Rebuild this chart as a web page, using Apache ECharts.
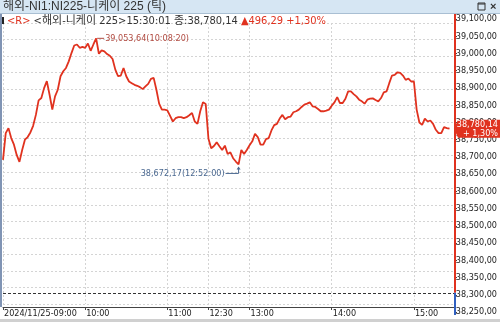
<!DOCTYPE html>
<html><head><meta charset="utf-8">
<script src="https://cdn.jsdelivr.net/npm/echarts@6/dist/echarts.min.js"></script>
<style>html,body{margin:0;padding:0;background:#fff}#c{width:500px;height:322px}</style>
</head><body><div id="c"></div>
<script>
// ---- data ----
const titleText = '해외-NI1:NI225-니케이 225 (틱)';
const prevClose = 38283.85;
const lastPrice = 38780.14;
const change = 496.29;
const changePct = 1.30;
const peakIndex = 34, peakValue = 39053.64, peakTime = '10:08:20';
const lowIndex = 86, lowValue = 38672.17, lowTime = '12:52:00';
const tickTimes = ['09:00', '10:00', '11:00', '12:30', '13:00', '14:00', '15:00'];
const tickTexts = ['2024/11/25-09:00', '10:00', '11:00', '12:30', '13:00', '14:00', '15:00'];
const priceMin = 38250, priceMax = 39100, priceStep = 50;
// 2-minute trading slots, 09:00-11:30 then 12:30-15:30 (lunch break removed)
const categories = [];
for (let m = 0; m <= 330; m += 2) {
  const t = m < 150 ? 540 + m : 750 + (m - 150);
  categories.push(String(Math.floor(t / 60)).padStart(2, '0') + ':' + String(t % 60).padStart(2, '0'));
}
const prices = [
 38686,38767,38782,38752,38732,38701,38680,38716,38747,38755,
 38769,38789,38822,38866,38873,38903,38924,38883,38838,38878,
 38898,38939,38954,38964,38984,39009,39032,39035,39025,39028,
 39025,39038,39016,39035,39053.64,39007,39017,39014,39006,39001,
 38991,38959,38939,38941,38964,38939,38923,38918,38913,38910,
 38906,38900,38908,38916,38931,38934,38898,38856,38838,38838,
 38836,38819,38802,38812,38815,38815,38812,38815,38821,38828,
 38802,38795,38833,38860,38855,38750,38721,38728,38739,38727,
 38716,38729,38704,38709,38691,38681,38672.17,38716,38704,38716,
 38730,38742,38765,38755,38732,38732,38749,38752,38775,38791,
 38795,38811,38822,38809,38815,38817,38830,38833,38838,38846,
 38853,38856,38860,38848,38846,38840,38833,38833,38835,38838,
 38850,38860,38876,38858,38858,38871,38893,38893,38885,38878,
 38868,38863,38856,38868,38871,38872,38867,38863,38873,38890,
 38893,38918,38941,38943,38951,38949,38941,38928,38932,38923,
 38923,38838,38799,38792,38811,38802,38805,38795,38777,38767,
 38767,38785,38782,38780.14
];

function fmt(v) {
  const s = v.toFixed(2).split('.');
  return s[0].replace(/\B(?=(\d{3})+(?!\d))/g, ',') + ',' + s[1];
}
const COND = '"DejaVu Sans Condensed","Noto Sans CJK KR",sans-serif';
const WIDE = '"Liberation Sans","Noto Sans CJK KR",sans-serif';
const RED = '#e0321f';

const chart = echarts.init(document.getElementById('c'));
chart.setOption({
  animation: false,
  backgroundColor: '#fff',
  grid: [
    { left: 3, right: 45, top: 23, bottom: 18 },
    { left: 454, width: 1, top: 19, bottom: 10 }
  ],
  xAxis: [{
    type: 'category', data: categories, boundaryGap: false, gridIndex: 0, offset: 3,
    axisLine: { lineStyle: { color: '#444', width: 1 } },
    axisTick: { show: true, length: 3, interval: (i, v) => tickTimes.includes(v), lineStyle: { color: '#444' } },
    axisLabel: {
      interval: (i, v) => tickTimes.includes(v),
      formatter: v => tickTexts[tickTimes.indexOf(v)] || '',
      align: 'left', margin: 2, padding: [0, 0, 0, 1],
      fontSize: 9, color: '#222', fontFamily: COND
    },
    splitLine: { show: true, interval: (i, v) => tickTimes.includes(v), lineStyle: { color: '#d4d4d4', type: [2, 2] } }
  }, {
    type: 'value', gridIndex: 1, show: false
  }],
  yAxis: [{
    type: 'value', gridIndex: 0, position: 'right', min: priceMin, max: priceMax, interval: priceStep,
    axisLine: { show: false }, axisTick: { show: false }, axisLabel: { show: false },
    splitLine: { show: true, lineStyle: { color: '#d4d4d4', type: [2, 2] } }
  }, {
    type: 'value', gridIndex: 1, position: 'right', min: priceMin, max: priceMax, interval: priceStep,
    axisLine: { show: false },
    axisTick: { show: true, length: 3, lineStyle: { color: '#444' } },
    axisLabel: { formatter: fmt, fontSize: 9, margin: 1, color: '#222', fontFamily: COND },
    splitLine: { show: false }
  }],
  series: [{
    type: 'line', data: prices, showSymbol: false, symbol: 'none', xAxisIndex: 0, yAxisIndex: 0,
    lineStyle: { color: RED, width: 1.8 },
    markLine: {
      silent: true, symbol: 'none', animation: false,
      data: [{ yAxis: prevClose }],
      lineStyle: { color: '#333', type: [3, 2], width: 1 },
      label: { show: false }
    }
  }]
});

const px = (i, v) => chart.convertToPixel({ xAxisIndex: 0, yAxisIndex: 0 }, [i, v]);
const pk = px(peakIndex, peakValue);
const lo = px(lowIndex, lowValue);
const pc = px(0, prevClose);
const lp = px(0, lastPrice);
const axX = 455;

chart.setOption({
  graphic: [
    // title bar
    { type: 'rect', shape: { x: 0, y: 0, width: 500, height: 13 }, style: { fill: '#d6e6f3' }, z: 100 },
    { type: 'line', shape: { x1: 0, y1: 13.5, x2: 500, y2: 13.5 }, style: { stroke: '#a9bfd3', lineWidth: 1 }, z: 100 },
    { type: 'text', x: 3, y: 7, style: { text: titleText, fill: '#333', font: '12px ' + WIDE, verticalAlign: 'middle' }, z: 101 },
    { type: 'rect', shape: { x: 478, y: 3, width: 7, height: 7 }, style: { fill: 'none', stroke: '#333', lineWidth: 1 }, z: 101 },
    { type: 'line', shape: { x1: 478, y1: 4, x2: 485, y2: 4 }, style: { stroke: '#333', lineWidth: 1 }, z: 101 },
    { type: 'text', x: 490, y: 7, style: { text: '×', fill: '#333', font: 'bold 11px sans-serif', verticalAlign: 'middle' }, z: 101 },
    // legend row
    { type: 'rect', shape: { x: 2, y: 17, width: 2, height: 7 }, style: { fill: '#222' }, z: 101 },
    { type: 'text', x: 7, y: 21, z: 101, style: {
        text: '{r|<R>} {k|<해외-니케이 225>15:30:01 종:' + fmt(lastPrice) + '} {r|▲' + fmt(change) + ' +' + fmt(changePct) + '%}',
        verticalAlign: 'middle', font: '11px ' + COND,
        rich: { r: { fill: RED, font: '11px ' + COND }, k: { fill: '#333', font: '11px ' + COND } }
    } },
    // left frame bar
    { type: 'rect', shape: { x: 0, y: 14, width: 2, height: 293 }, style: { fill: '#8094b4' }, z: 50 },
    // price axis line: red above previous close, blue below
    { type: 'line', shape: { x1: axX, y1: 14, x2: axX, y2: pc[1] }, style: { stroke: RED, lineWidth: 2 }, z: 60 },
    { type: 'line', shape: { x1: axX, y1: pc[1], x2: axX, y2: 315 }, style: { stroke: '#3060c0', lineWidth: 2 }, z: 60 },
    // high annotation
    { type: 'line', shape: { x1: pk[0] + 1, y1: pk[1], x2: pk[0] + 8, y2: pk[1] }, style: { stroke: '#b04a40', lineWidth: 1 }, z: 70 },
    { type: 'text', x: pk[0] + 9, y: pk[1], style: { text: fmt(peakValue) + '(' + peakTime + ')', fill: '#b04a40', font: '9px ' + COND, verticalAlign: 'middle' }, z: 70 },
    // low annotation
    { type: 'polyline', shape: { points: [[lo[0] - 13, lo[1] + 9], [lo[0], lo[1] + 9], [lo[0], lo[1] + 3]] }, style: { stroke: '#4a6890', lineWidth: 1, fill: 'none' }, z: 70 },
    { type: 'polygon', shape: { points: [[lo[0] - 2, lo[1] + 5], [lo[0] + 2, lo[1] + 5], [lo[0], lo[1] + 2]] }, style: { fill: '#4a6890' }, z: 70 },
    { type: 'text', x: lo[0] - 14, y: lo[1] + 9, style: { text: fmt(lowValue) + '(' + lowTime + ')', fill: '#4a6890', font: '9px ' + COND, verticalAlign: 'middle', align: 'right' }, z: 70 },
    // last price tag
    { type: 'polygon', shape: { points: [[axX - 1, lp[1]], [axX + 3, lp[1] - 9], [500, lp[1] - 9], [500, lp[1] + 9], [axX + 3, lp[1] + 9]] }, style: { fill: RED }, z: 80 },
    { type: 'text', x: 498, y: lp[1] - 4, style: { text: fmt(lastPrice), fill: '#fff', font: '9px ' + COND, verticalAlign: 'middle', align: 'right' }, z: 81 },
    { type: 'text', x: 498, y: lp[1] + 4.5, style: { text: '+ ' + fmt(changePct) + '%', fill: '#fff', font: '9px ' + COND, verticalAlign: 'middle', align: 'right' }, z: 81 },
    // bottom strip
    { type: 'rect', shape: { x: 0, y: 319, width: 500, height: 3 }, style: { fill: '#d0d0d0' }, z: 50 }
  ]
});
</script>
</body></html>
